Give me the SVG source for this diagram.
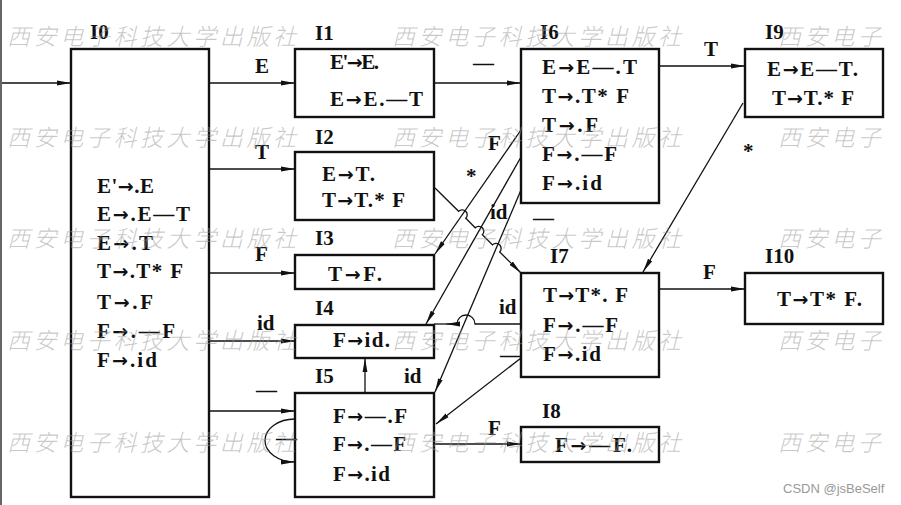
<svg xmlns="http://www.w3.org/2000/svg" width="901" height="505" viewBox="0 0 901 505">
<defs>
<marker id="ah" markerUnits="userSpaceOnUse" markerWidth="14" markerHeight="6" refX="14" refY="3" orient="auto"><path d="M0,0.6 L14,3 L0,5.4 Z" fill="#111"/></marker>
</defs>
<style>
.box{fill:#fff;stroke:#111;stroke-width:2.4}
.t{font-family:"Liberation Serif","Times New Roman",serif;font-size:21px;font-weight:bold;fill:#111}
.ar{font-family:"DejaVu Sans",sans-serif;font-size:19px;font-weight:bold}
.c{fill:none;stroke:#111;stroke-width:1.3}
.a{marker-end:url(#ah)}
.wm{font-family:"Noto Sans CJK SC",sans-serif;font-size:23px;font-style:italic;font-weight:300;fill:#999;fill-opacity:0.55;letter-spacing:3.6px}
.cs{font-family:"Liberation Sans",Arial,sans-serif;font-size:13px;fill:#999}
</style>
<rect width="901" height="505" fill="#fff"/>
<line x1="1" y1="0" x2="1" y2="505" stroke="#333" stroke-width="1.5"/>

<g id="I0">
<rect class="box" x="71" y="49" width="138" height="448"/>
<text class="t" x="90" y="39">I0</text>
<text class="t" x="97" y="193" textLength="57">E'<tspan class="ar">→</tspan>.E</text>
<text class="t" x="97" y="221" textLength="93">E<tspan class="ar">→</tspan>.E—T</text>
<text class="t" x="97" y="250" textLength="56">E<tspan class="ar">→</tspan>.T</text>
<text class="t" x="97" y="278" textLength="86">T<tspan class="ar">→</tspan>.T* F</text>
<text class="t" x="97" y="309" textLength="56">T<tspan class="ar">→</tspan>.F</text>
<text class="t" x="97" y="338" textLength="78">F<tspan class="ar">→</tspan>.—F</text>
<text class="t" x="97" y="367" textLength="60">F<tspan class="ar">→</tspan>.id</text>
</g>
<g id="I1">
<rect class="box" x="295" y="49" width="139" height="68"/>
<text class="t" x="315" y="40">I1</text>
<text class="t" x="330" y="69" textLength="49">E'<tspan class="ar">→</tspan>E.</text>
<text class="t" x="330" y="105.5" textLength="93">E<tspan class="ar">→</tspan>E.—T</text>
</g>
<g id="I2">
<rect class="box" x="295" y="152" width="139" height="68"/>
<text class="t" x="315" y="144">I2</text>
<text class="t" x="322" y="180.5" textLength="53">E<tspan class="ar">→</tspan>T.</text>
<text class="t" x="322" y="207" textLength="83">T<tspan class="ar">→</tspan>T.* F</text>
</g>
<g id="I3">
<rect class="box" x="295" y="255" width="139" height="34"/>
<text class="t" x="315" y="245">I3</text>
<text class="t" x="328" y="280.5" textLength="54">T<tspan class="ar">→</tspan>F.</text>
</g>
<g id="I4">
<rect class="box" x="295" y="325" width="139" height="33"/>
<text class="t" x="315" y="315">I4</text>
<text class="t" x="333" y="347" textLength="57">F<tspan class="ar">→</tspan>id.</text>
</g>
<g id="I5">
<rect class="box" x="295" y="393" width="139" height="104"/>
<text class="t" x="315" y="383">I5</text>
<text class="t" x="333" y="423" textLength="74">F<tspan class="ar">→</tspan>—.F</text>
<text class="t" x="333" y="450.5" textLength="73">F<tspan class="ar">→</tspan>.—F</text>
<text class="t" x="333" y="480.5" textLength="57">F<tspan class="ar">→</tspan>.id</text>
</g>
<g id="I6">
<rect class="box" x="521" y="49" width="138" height="154"/>
<text class="t" x="540" y="39">I6</text>
<text class="t" x="542" y="74" textLength="95">E<tspan class="ar">→</tspan>E—.T</text>
<text class="t" x="542" y="102.5" textLength="87">T<tspan class="ar">→</tspan>.T* F</text>
<text class="t" x="542" y="132" textLength="56">T<tspan class="ar">→</tspan>.F</text>
<text class="t" x="542" y="161" textLength="75">F<tspan class="ar">→</tspan>.—F</text>
<text class="t" x="542" y="190" textLength="60">F<tspan class="ar">→</tspan>.id</text>
</g>
<g id="I7">
<rect class="box" x="521" y="273" width="138" height="104"/>
<text class="t" x="550" y="263">I7</text>
<text class="t" x="543" y="302" textLength="85">T<tspan class="ar">→</tspan>T*. F</text>
<text class="t" x="543" y="331.5" textLength="75">F<tspan class="ar">→</tspan>.—F</text>
<text class="t" x="543" y="360.5" textLength="58">F<tspan class="ar">→</tspan>.id</text>
</g>
<g id="I8">
<rect class="box" x="521" y="427" width="138" height="35"/>
<text class="t" x="542" y="418">I8</text>
<text class="t" x="555" y="451.5" textLength="77">F<tspan class="ar">→</tspan>—F.</text>
</g>
<g id="I9">
<rect class="box" x="745" y="49" width="138" height="68"/>
<text class="t" x="765" y="39">I9</text>
<text class="t" x="767" y="75.5" textLength="91">E<tspan class="ar">→</tspan>E—T.</text>
<text class="t" x="772" y="105" textLength="82">T<tspan class="ar">→</tspan>T.* F</text>
</g>
<g id="I10">
<rect class="box" x="745" y="273" width="138" height="51"/>
<text class="t" x="765" y="263">I10</text>
<text class="t" x="777" y="305.5" textLength="85">T<tspan class="ar">→</tspan>T* F.</text>
</g>

<g id="connectors">
<path class="c a" d="M2,83 H71"/>
<path class="c a" d="M209,83 H295"/>
<path class="c a" d="M209,169 H295"/>
<path class="c a" d="M209,273 H295"/>
<path class="c a" d="M209,341 H295"/>
<path class="c a" d="M209,411 H295"/>
<path class="c a" d="M295,419 A30,21.5 0 0 0 295,462"/>
<path class="c a" d="M434,83 H521"/>
<path class="c a" d="M659,66 H745"/>
<path class="c a" d="M659,289 H745"/>
<path class="c a" d="M434,444 H521"/>
<path class="c a" d="M365,393 V358"/>
<path class="c a" d="M521,130 L435,254"/>
<path class="c a" d="M521,157 L426,324"/>
<path class="c a" d="M521,190 L435,392"/>
<path class="c a" d="M435,188 L458.6,211.3 A5,5 0 0 1 465.8,218.3 L475.2,227.8 A5,5 0 0 1 482.4,234.8 L492.5,244.9 A5,5 0 0 1 499.7,251.9 L521,273"/>
<path class="c a" d="M743,103 L643,272"/>
<path class="c a" d="M521,324 H475 A9,9 0 0 0 457,324 H446"/>
<path class="c" d="M446,324 H434"/>
<path class="c a" d="M521,358 L436,424"/>
<text class="t" x="255" y="73">E</text>
<text class="t" x="255" y="159">T</text>
<text class="t" x="255" y="261">F</text>
<text class="t" x="257" y="330">id</text>
<text class="t" x="256" y="397" textLength="18">—</text>
<text class="t" x="276" y="445" textLength="18">—</text>
<text class="t" x="473" y="70" textLength="17">—</text>
<text class="t" x="704" y="56">T</text>
<text class="t" x="466" y="183">*</text>
<text class="t" x="488" y="150">F</text>
<text class="t" x="490" y="219">id</text>
<text class="t" x="533" y="225" textLength="17">—</text>
<text class="t" x="743" y="158">*</text>
<text class="t" x="499" y="314">id</text>
<text class="t" x="500" y="362" textLength="15">—</text>
<text class="t" x="404" y="383">id</text>
<text class="t" x="703" y="279">F</text>
<text class="t" x="488" y="435">F</text>
</g>

<g id="watermark">
<text class="wm" x="7" y="45">西安电子科技大学出版社</text>
<text class="wm" x="392" y="45">西安电子科技大学出版社</text>
<text class="wm" x="778" y="45">西安电子</text>
<text class="wm" x="7" y="146">西安电子科技大学出版社</text>
<text class="wm" x="392" y="146">西安电子科技大学出版社</text>
<text class="wm" x="778" y="146">西安电子</text>
<text class="wm" x="7" y="247">西安电子科技大学出版社</text>
<text class="wm" x="392" y="247">西安电子科技大学出版社</text>
<text class="wm" x="778" y="247">西安电子</text>
<text class="wm" x="7" y="349">西安电子科技大学出版社</text>
<text class="wm" x="392" y="349">西安电子科技大学出版社</text>
<text class="wm" x="778" y="349">西安电子</text>
<text class="wm" x="7" y="451">西安电子科技大学出版社</text>
<text class="wm" x="392" y="451">西安电子科技大学出版社</text>
<text class="wm" x="778" y="451">西安电子</text>
</g>
<text class="cs" x="783" y="493">CSDN @jsBeSelf</text>
</svg>
